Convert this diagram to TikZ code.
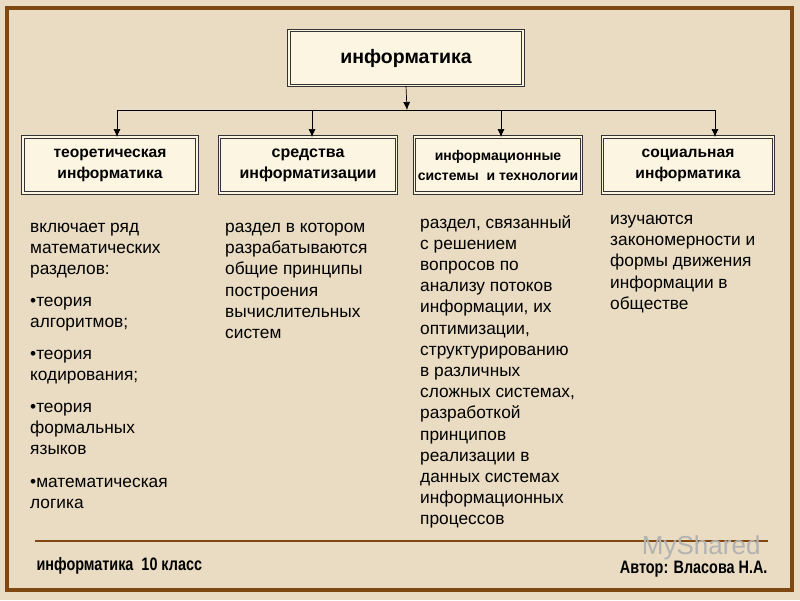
\documentclass[tikz,border=0pt]{standalone}
\usepackage{fontspec}
\setmainfont{Liberation Sans}
\newfontfamily\narrowf[FakeStretch=0.8]{Liberation Sans}
\usetikzlibrary{arrows.meta}
\definecolor{bg}{HTML}{E9DCC2}
\definecolor{frm}{HTML}{7F4712}
\definecolor{boxf}{HTML}{FBF5E2}
\tikzset{
 hbox/.style={draw=black!80,line width=0.8pt,fill=boxf,double=boxf,double distance=1.6pt,inner sep=2pt,align=center,font=\bfseries},
 arr/.style={-{Latex[length=8pt,width=7pt]},line width=0.7pt},
 body/.style={anchor=north west,align=left,font=\fontsize{17.3}{21.2}\selectfont,inner sep=0pt},
}
\begin{document}
\begin{tikzpicture}[x=1pt,y=-1pt]
\fill[bg] (0,0) rectangle (800,600);
\draw[frm,line width=4pt] (7,8) rectangle (792,590);
\node[hbox,minimum width=234,minimum height=55,font=\bfseries\fontsize{19.5}{22}\selectfont] (top) at (406,58) {информатика};
\node[hbox,minimum width=174,minimum height=56,font=\bfseries\fontsize{15.6}{21}\selectfont] (a) at (110,165) {теоретическая\\информатика};
\node[hbox,minimum width=177,minimum height=56,font=\bfseries\fontsize{16}{21}\selectfont] (b) at (308,165) {средства\\информатизации};
\node[hbox,minimum width=167,minimum height=56,font=\bfseries\fontsize{14}{20}\selectfont] (c) at (498,165) {информационные\\системы\ \ и технологии};
\node[hbox,minimum width=171,minimum height=56,font=\bfseries\fontsize{15.6}{21}\selectfont] (d) at (688,165) {социальная\\информатика};
\coordinate (j) at (407,110);
\coordinate (l) at (117,110);
\coordinate (r) at (715,110);
\draw[arr] (top.south) -- (j);
\draw[line width=0.7pt] (l) -- (r);
\draw[arr] (l) -- (117,137);
\draw[arr] (312,110) -- (312,137);
\draw[arr] (501,110) -- (501,137);
\draw[arr] (r) -- (715,137);
\node[body] (t1) at (30,223) {включает ряд\\математических\\разделов:};
\node[body] (t2) at (30,297) {•теория\\алгоритмов;};
\node[body] (t3) at (30,350) {•теория\\кодирования;};
\node[body] (t4) at (30,403) {•теория\\формальных\\языков};
\node[body] (t5) at (30,478) {•математическая\\логика};
\node[body] (t6) at (225,223) {раздел в котором\\разрабатываются\\общие принципы\\построения\\вычислительных\\систем};
\node[body] (t7) at (420,215) {раздел, связанный\\с решением\\вопросов по\\анализу потоков\\информации, их\\оптимизации,\\структурированию\\в различных\\сложных системах,\\разработкой\\принципов\\реализации в\\данных системах\\информационных\\процессов};
\node[body] (t8) at (610,215) {изучаются\\закономерности и\\формы движения\\информации в\\обществе};
\coordinate (b1) at (35,541);
\coordinate (b2) at (768,541);
\draw[frm,line width=1.3pt] (b1) -- (b2);
\node[anchor=west,font=\narrowf\bfseries\fontsize{18}{20}\selectfont] (f1) at (33,566) {информатика\ \ 10 класс};
\node[anchor=east,text=black!30,font=\fontsize{26}{28}\selectfont] (ms) at (764,548) {MyShared};
\node[anchor=east,font=\narrowf\bfseries\fontsize{18}{20}\selectfont] (f2) at (771,569) {Автор: Власова Н.А.};
\end{tikzpicture}
\end{document}
